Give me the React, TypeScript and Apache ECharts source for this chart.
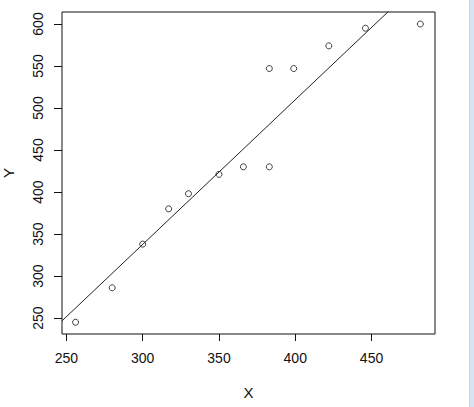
import React, { useEffect, useRef } from "react";
import * as echarts from "echarts";

const xValues = [256, 280, 300, 317, 330, 350, 366, 383, 383, 399, 422, 446, 482];
const yValues = [245, 286, 338, 380, 398, 421, 430, 430, 547, 547, 574, 595, 600];
const xTicks = [250, 300, 350, 400, 450];
const yTicks = [250, 300, 350, 400, 450, 500, 550, 600];
const xRange = [247.1, 491.6];
const yRange = [231, 614.3];

function fit(xs: number[], ys: number[]) {
  const n = xs.length;
  const mx = xs.reduce((a, b) => a + b, 0) / n;
  const my = ys.reduce((a, b) => a + b, 0) / n;
  let sxx = 0;
  let sxy = 0;
  for (let i = 0; i < n; i++) {
    sxx += (xs[i] - mx) * (xs[i] - mx);
    sxy += (xs[i] - mx) * (ys[i] - my);
  }
  const b = sxy / sxx;
  return { a: my - b * mx, b };
}

export default function App() {
  const ref = useRef<HTMLDivElement>(null);
  useEffect(() => {
    if (!ref.current) return;
    const chart = echarts.init(ref.current, null, { renderer: "svg" });
    const { a, b } = fit(xValues, yValues);
    const lineData = xRange.map((x) => [x, a + b * x]);
    const font = "'Liberation Sans', Arial, sans-serif";
    chart.setOption({
      animation: false,
      backgroundColor: "#fff",
      grid: {
        left: 62,
        right: 39,
        top: 12,
        bottom: 73,
        containLabel: false,
        outerBoundsMode: "none",
        show: true,
        borderColor: "#111",
        borderWidth: 1,
        backgroundColor: "transparent",
      },
      xAxis: {
        type: "value",
        min: xRange[0],
        max: xRange[1],
        name: "X",
        nameLocation: "middle",
        nameGap: 51,
        nameTextStyle: { fontFamily: font, fontSize: 15, color: "#111" },
        axisLine: { show: false },
        axisTick: {
          show: true,
          inside: false,
          length: 7,
          customValues: xTicks,
          lineStyle: { color: "#111" },
        },
        axisLabel: {
          customValues: xTicks,
          margin: 17,
          fontFamily: font,
          fontSize: 14,
          color: "#111",
        },
        splitLine: { show: false },
      },
      yAxis: {
        type: "value",
        min: yRange[0],
        max: yRange[1],
        name: "Y",
        nameLocation: "middle",
        nameGap: 46,
        nameTextStyle: { fontFamily: font, fontSize: 15, color: "#111" },
        axisLine: { show: false },
        axisTick: {
          show: true,
          inside: false,
          length: 8,
          customValues: yTicks,
          lineStyle: { color: "#111" },
        },
        axisLabel: {
          customValues: yTicks,
          rotate: 90,
          margin: 17,
          fontFamily: font,
          fontSize: 14,
          color: "#111",
        },
        splitLine: { show: false },
      },
      graphic: [
        {
          type: "rect",
          shape: { x: 469, y: 0, width: 5, height: 407 },
          style: { fill: "#d6e4f3" },
          silent: true,
        },
        {
          type: "line",
          shape: { x1: 469.5, y1: 0, x2: 469.5, y2: 407 },
          style: { stroke: "#c3d4e8", lineWidth: 1 },
          silent: true,
        },
      ],
      series: [
        {
          type: "scatter",
          data: xValues.map((x, i) => [x, yValues[i]]),
          symbol: "circle",
          symbolSize: 6,
          itemStyle: { color: "transparent", borderColor: "#111", borderWidth: 1 },
        },
        {
          type: "line",
          data: lineData,
          showSymbol: false,
          clip: true,
          lineStyle: { color: "#222", width: 1 },
        },
      ],
    });
    return () => chart.dispose();
  }, []);
  return (
    <div
      ref={ref}
      style={{ position: "fixed", left: 0, top: 0, width: 474, height: 407 }}
    />
  );
}
